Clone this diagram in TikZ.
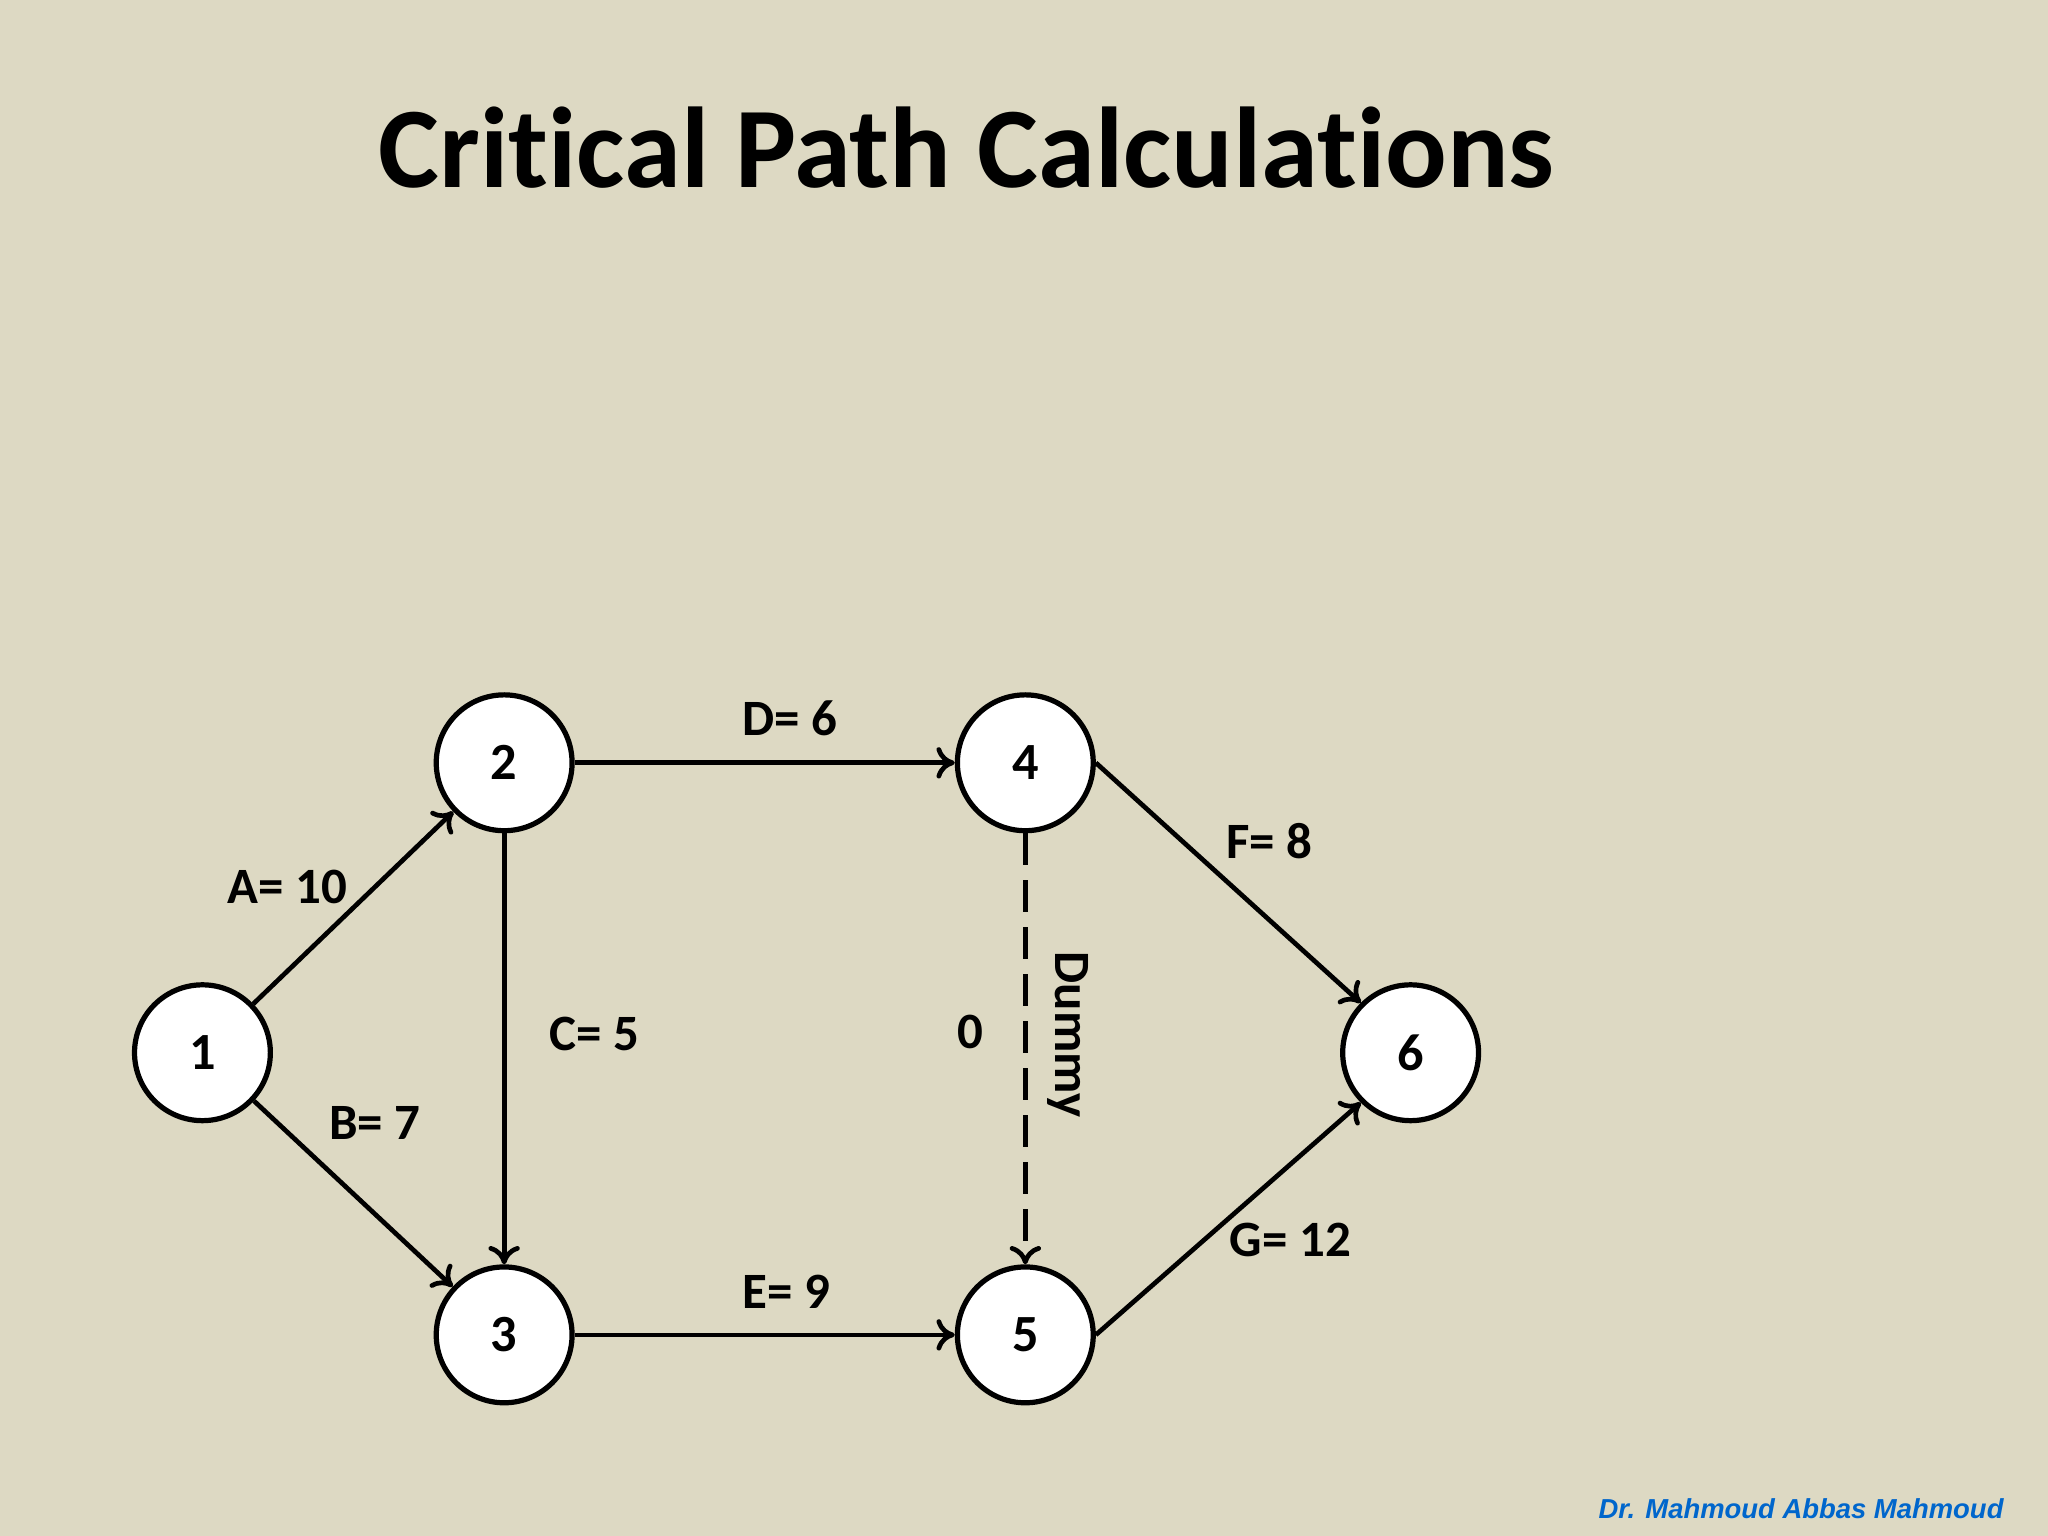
\documentclass[tikz,border=0pt]{standalone}
\usepackage{fontspec}
\setmainfont[Ligatures=CommonOff]{Carlito}
\usetikzlibrary{arrows.meta}
\definecolor{bg}{RGB}{221,217,195}
\definecolor{foot}{RGB}{0,102,204}
\begin{document}
\begin{tikzpicture}[x=0.5pt,y=-0.5pt,
  ev/.style={circle,draw,fill=white,line width=2pt,minimum size=52pt,inner sep=0pt,font=\fontsize{20}{24}\selectfont\bfseries},
  act/.style={line width=1.8pt,-{To[length=7pt,width=12pt,line width=1.8pt]}},
  lab/.style={font=\fontsize{19.5}{22}\selectfont\bfseries}]
\fill[bg] (0,0) rectangle (1568,1176);
\useasboundingbox (0,0) rectangle (1568,1176);
\node[font=\fontsize{44}{52}\selectfont\bfseries] (title) at (740,113) {Critical Path Calculations};
\node[ev] (n1) at (155,806) {1};
\node[ev] (n2) at (386,584) {2};
\node[ev] (n3) at (386,1022) {3};
\node[ev] (n4) at (785,584) {4};
\node[ev] (n5) at (785,1022) {5};
\node[ev] (n6) at (1080,806) {6};
\draw[act] (n1) -- (n2);
\draw[act] (n1) -- (n3);
\draw[act] (n2) -- (n3);
\draw[act] (n2) -- (n4);
\draw[act] (n3) -- (n5);
\draw[act,dash pattern=on 12pt off 6pt] (n4) -- (n5);
\draw[act] (n4.east) -- (n6.north west);
\draw[act] (n5.east) -- (n6.south west);
\node[lab] (la) at (220,679) {A= 10};
\node[lab] (lb) at (287,860) {B= 7};
\node[lab] (lc) at (455,792) {C= 5};
\node[lab] (ld) at (605,550) {D= 6};
\node[lab] (le) at (602,989) {E= 9};
\node[lab] (lf) at (972,644) {F= 8};
\node[lab] (lg) at (988,949) {G= 12};
\node[lab] (l0) at (743,790) {0};
\node[lab,rotate=-90] (ldum) at (818,792) {Dummy};
\node[anchor=east,text=foot,font=\fontspec{Liberation Sans}\fontsize{10.5}{12}\selectfont\bfseries\itshape] (ft) at (1541,1155) {Dr. Mahmoud Abbas Mahmoud};
\end{tikzpicture}
\end{document}
